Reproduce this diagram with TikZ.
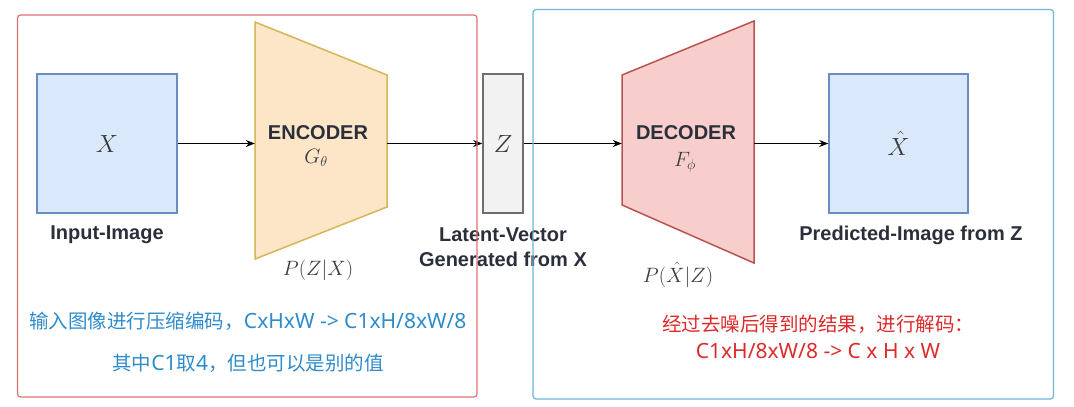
\documentclass[tikz,border=0pt]{standalone}
\usepackage{fontspec}
\usepackage{amsmath}
\newfontfamily\lblfont{Liberation Sans}
\newfontfamily\cjk{Noto Sans CJK SC}
\newfontfamily\notelatin{Noto Sans}
\usetikzlibrary{arrows.meta,positioning}
\definecolor{imgfill}{HTML}{DAE8FC}
\definecolor{imgdraw}{HTML}{6C8EBF}
\definecolor{encfill}{HTML}{FDE5C8}
\definecolor{encdraw}{HTML}{D6B656}
\definecolor{decfill}{HTML}{F8CECC}
\definecolor{decdraw}{HTML}{B85450}
\definecolor{zfill}{HTML}{F2F2F2}
\definecolor{zdraw}{HTML}{6E6E6E}
\definecolor{lbltext}{HTML}{2B2F3A}
\definecolor{mathtext}{HTML}{3C3C3C}
\definecolor{noteblue}{HTML}{2E8BCB}
\definecolor{notered}{HTML}{DC2A2A}
\definecolor{redframe}{HTML}{E07070}
\definecolor{blueframe}{HTML}{6BB6D6}
\newcommand{\lat}[1]{{\notelatin\fontsize{21}{24}\selectfont #1}}

\begin{document}
\begin{tikzpicture}[x=1pt, y=-1pt,
  img/.style = {draw=imgdraw, fill=imgfill, line width=1.5pt, minimum width=#1, minimum height=139pt},
  zbox/.style = {draw=zdraw, fill=zfill, line width=1.5pt, minimum width=40pt, minimum height=139pt},
  coder/.style = {minimum width=#1, minimum height=130pt, inner sep=0pt},
  lbl/.style = {font=\lblfont\bfseries\fontsize{20}{25}\selectfont, text=lbltext, align=center},
  mth/.style = {font=\fontsize{24}{26}\selectfont, text=mathtext},
  sub/.style = {font=\fontsize{21}{24}\selectfont, text=mathtext},
  note/.style = {font=\cjk\fontsize{19.5}{27}\selectfont, align=center},
  arr/.style = {-{Stealth[length=9pt,width=7pt]}, line width=0.9pt},
  frame/.style = {line width=1.2pt, rounded corners=3pt}]
\useasboundingbox (0,0) rectangle (1074,407);

% input side
\node[img=140pt, mth] (in) at (107,143.5) {$X$};
\node[lbl] (inlbl) at (107,235) {Input-Image};

% encoder
\draw[fill=encfill, draw=encdraw, line width=1.5pt] (255,22) -- (387,75) -- (387,207) -- (255,259) -- cycle;
\node[coder=132pt] (enc) at (321,143.5) {};
\node[lbl] (enctxt) at (318,133) {ENCODER};
\node[sub] (gth) at (316,158) {$G_\theta$};
\node[sub] (pzx) at (318,270) {$P(Z|X)$};

% latent vector
\node[zbox, mth] (z) at (503,143.5) {$Z$};
\node[lbl] (zlbl) at (503,247.5) {Latent-Vector\\Generated from X};

% decoder
\draw[fill=decfill, draw=decdraw, line width=1.5pt] (622,75) -- (754,21) -- (754,263) -- (622,205) -- cycle;
\node[coder=132pt] (dec) at (688,143.5) {};
\node[lbl] (dectxt) at (686,133) {DECODER};
\node[sub] (fph) at (685,162) {$F_\phi$};
\node[sub] (pxz) at (678,275) {$P(\hat{X}|Z)$};

% output side
\node[img=139pt, mth] (out) at (898.5,143.5) {$\hat{X}$};
\node[lbl] (outlbl) at (911,235) {Predicted-Image from Z};

\draw[arr] (in) -- (enc);
\draw[arr] (enc) -- (z);
\draw[arr] (z) -- (dec);
\draw[arr] (dec) -- (out);

% frames and notes
\draw[frame, draw=redframe] (17.5,15) rectangle (477,397);
\draw[frame, draw=blueframe] (533,9.5) rectangle (1053.5,399);
\node[note, text=noteblue] (encnote) at (248,321.5) {输入图像进行压缩编码，\lat{CxHxW -> C1xH/8xW/8}};
\node[note, text=noteblue] (c1note) at (248,363.5) {其中\lat{C1}取\lat{4}，但也可以是别的值};
\node[note, text=notered] (decnote) at (818,336.5) {经过去噪后得到的结果，进行解码：\\\lat{C1xH/8xW/8 -> C x H x W}};
\end{tikzpicture}
\end{document}
